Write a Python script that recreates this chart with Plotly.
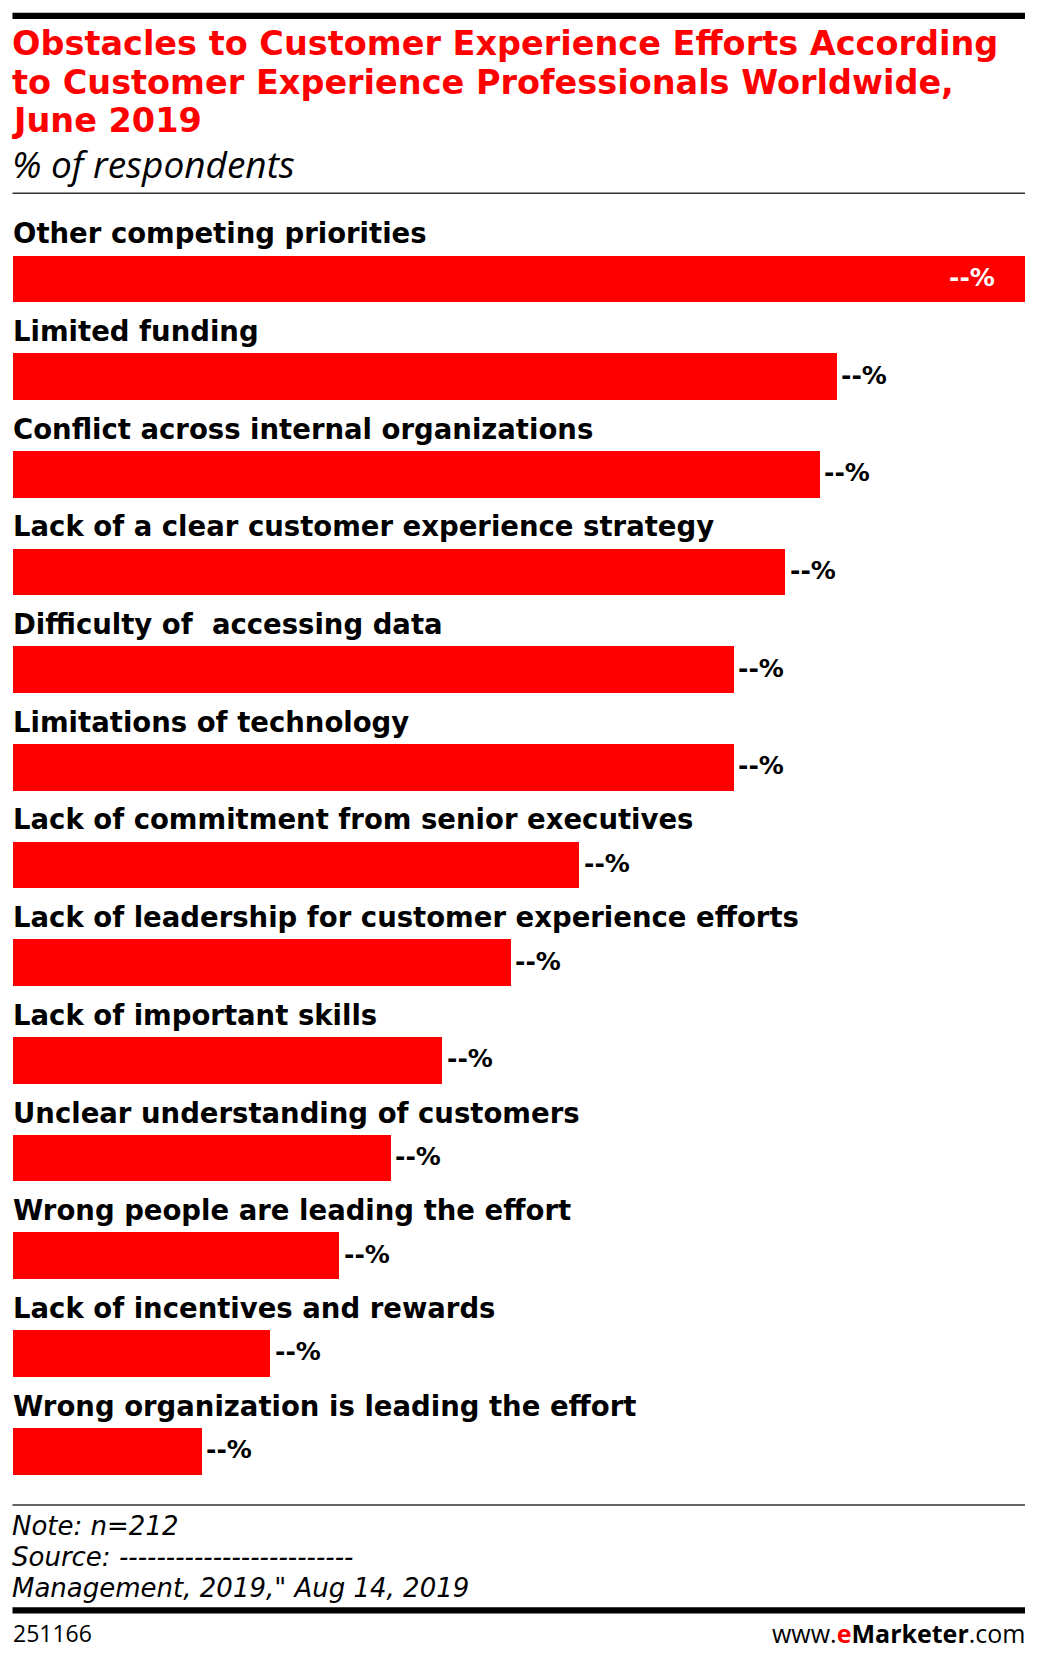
import plotly.graph_objects as go

categories = [
    "Other competing priorities",
    "Limited funding",
    "Conflict across internal organizations",
    "Lack of a clear customer experience strategy",
    "Difficulty of  accessing data",
    "Limitations of technology",
    "Lack of commitment from senior executives",
    "Lack of leadership for customer experience efforts",
    "Lack of important skills",
    "Unclear understanding of customers",
    "Wrong people are leading the effort",
    "Lack of incentives and rewards",
    "Wrong organization is leading the effort",
]
values = [59, 48, 47, 45, 42, 42, 33, 29, 25, 22, 19, 15, 11]
value_labels = ["--%"] * len(values)

W, H = 1038, 1659
RED = "#ff0000"
BOLD = "DejaVu Sans"

def py(px):
    return 1 - px / H

def px_(x):
    return x / W

fig = go.Figure()
fig.add_trace(go.Bar(
    y=categories, x=values, orientation="h",
    marker=dict(color=RED, line=dict(width=0)),
    width=0.478, hoverinfo="skip",
))

left, right = 12.5, 1025
top, bottom = 229.5, 1499.5

annotations = []
for i, (c, v, t) in enumerate(zip(categories, values, value_labels)):
    annotations.append(dict(
        x=0, y=c, xref="x", yref="y", text="<b>%s</b>" % c, showarrow=False,
        xanchor="left", yanchor="middle", yshift=45, xshift=-2,
        font=dict(family=BOLD, size=27.5, color="#000000"),
    ))
    if i == 0:
        annotations.append(dict(
            x=v, y=c, xref="x", yref="y", text="<b>%s</b>" % t, showarrow=False,
            xanchor="right", yanchor="middle", xshift=-28, yshift=1,
            font=dict(family=BOLD, size=25, color="#ffffff"),
        ))
    else:
        annotations.append(dict(
            x=v, y=c, xref="x", yref="y", text="<b>%s</b>" % t, showarrow=False,
            xanchor="left", yanchor="middle", xshift=3, yshift=1,
            font=dict(family=BOLD, size=25, color="#000000"),
        ))

title_lines = [
    "Obstacles to Customer Experience Efforts According",
    "to Customer Experience Professionals Worldwide,",
    "June 2019",
]
for k, line in enumerate(title_lines):
    annotations.append(dict(
        x=px_(10), y=py(44 + k * 38.5), xref="paper", yref="paper",
        text="<b>%s</b>" % line, showarrow=False, xanchor="left", yanchor="middle",
        font=dict(family=BOLD, size=33.5, color=RED),
    ))
annotations.append(dict(
    x=px_(10), y=py(164), xref="paper", yref="paper",
    text="<i>% of respondents</i>", showarrow=False, xanchor="left", yanchor="middle",
    font=dict(family="Open Sans", size=37, color="#000000"),
))

footer_lines = [
    "Note: n=212",
    "Source: -------------------------",
    "Management, 2019,\" Aug 14, 2019",
]
for k, line in enumerate(footer_lines):
    annotations.append(dict(
        x=px_(10), y=py(1526 + k * 31), xref="paper", yref="paper",
        text="<i>%s</i>" % line, showarrow=False, xanchor="left", yanchor="middle",
        font=dict(family="DejaVu Sans", size=26, color="#000000"),
    ))
annotations.append(dict(
    x=px_(11), y=py(1633), xref="paper", yref="paper", text="251166",
    showarrow=False, xanchor="left", yanchor="middle",
    font=dict(family="Open Sans", size=23, color="#000000"),
))
annotations.append(dict(
    x=px_(1027), y=py(1633), xref="paper", yref="paper",
    text="www.<b><span style='color:#ff0000'>e</span>Marketer</b>.com",
    showarrow=False, xanchor="right", yanchor="middle",
    font=dict(family="Open Sans", size=25, color="#000000"),
))

shapes = [
    dict(type="rect", xref="paper", yref="paper", x0=px_(12.5), x1=px_(1025),
         y0=py(19), y1=py(12.7), fillcolor="#000000", line=dict(width=0)),
    dict(type="line", xref="paper", yref="paper", x0=px_(12.5), x1=px_(1025),
         y0=py(193.3), y1=py(193.3), line=dict(color="#333333", width=1.5)),
    dict(type="line", xref="paper", yref="paper", x0=px_(12.5), x1=px_(1025),
         y0=py(1505), y1=py(1505), line=dict(color="#333333", width=1.5)),
    dict(type="rect", xref="paper", yref="paper", x0=px_(12.5), x1=px_(1025),
         y0=py(1613.5), y1=py(1607.3), fillcolor="#000000", line=dict(width=0)),
]

fig.update_layout(
    width=W, height=H, margin=dict(l=0, r=0, t=0, b=0),
    paper_bgcolor="#ffffff", plot_bgcolor="#ffffff",
    showlegend=False, annotations=annotations, shapes=shapes,
    xaxis=dict(domain=[px_(left), px_(right)], range=[0, max(values)],
               visible=False, fixedrange=True),
    yaxis=dict(domain=[py(bottom), py(top)], range=[len(categories) - 0.5, -0.5],
               visible=False, fixedrange=True),
    bargap=0,
)

fig.write_html("out.html", config={"displayModeBar": False},
               post_script="document.body.style.margin='0px';")
